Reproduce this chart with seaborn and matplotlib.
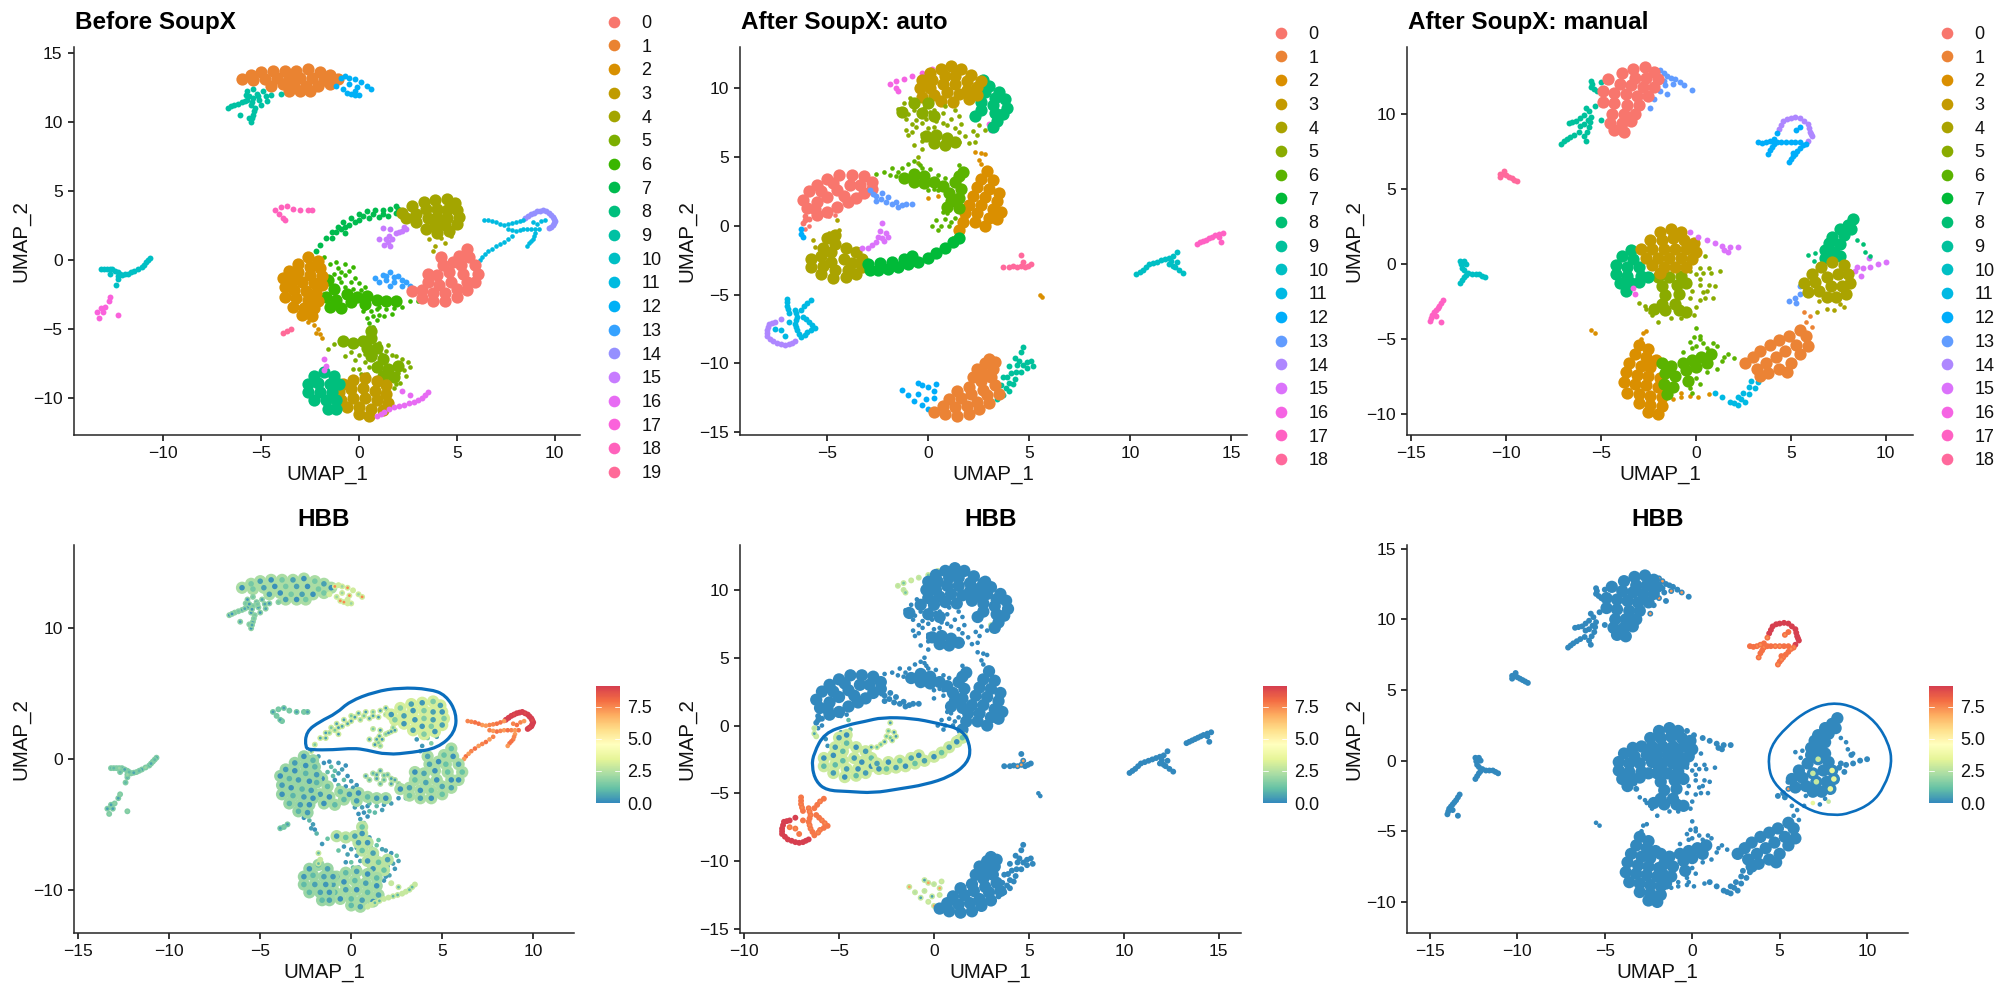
import matplotlib
matplotlib.use("Agg")
import matplotlib.pyplot as plt
from matplotlib.cm import ScalarMappable
from matplotlib.colors import LinearSegmentedColormap, Normalize
from matplotlib.lines import Line2D
from matplotlib.patches import PathPatch
from matplotlib.path import Path
import pandas as pd
import seaborn as sns

# Seurat cluster colours (ggplot hue palette)
hue20 = ["#F8766D","#EA8331","#D89000","#C09B00","#A3A500","#7CAE00","#39B600","#00BB4E","#00BF7D","#00C1A3",
         "#00BFC4","#00BAE0","#00B0F6","#35A2FF","#9590FF","#C77CFF","#E76BF3","#FA62DB","#FF62BC","#FF6A98"]
hue19 = ["#F8766D","#EB8335","#DA8F00","#C49A00","#AAA300","#8AAB00","#5BB300","#00BA38","#00BF74","#00C19C",
         "#00BFC4","#00B9E3","#00ADFA","#619CFF","#AE87FF","#DB72FB","#F564E3","#FF61C3","#FF699C"]
spectral = ["#3288BD","#66C2A5","#ABDDA4","#E6F598","#FFFFBF","#FEE08B","#FDAE61","#F46D43","#D53E4F"]

# ---- Before SoupX: UMAP positions per cluster ----
bf_1 = [(-6.0,13.1),(-5.5,13.4),(-5.0,13.6),(-4.4,13.7),(-3.8,13.7),(-3.2,13.7),(-2.6,13.8),(-2.0,13.6),(-1.5,13.4),(-1.1,13.1),(-5.4,13.0),(-4.8,13.1),(-4.2,13.2),(-3.6,13.2),(-3.0,13.2),(-2.4,13.2),(-1.8,13.0),(-4.5,12.6),(-3.9,12.7),(-3.3,12.6),(-2.7,12.6),(-2.1,12.6),(-1.5,12.7),(-3.6,12.2),(-3.0,12.2),(-2.5,12.2)]
bf_12 = [(-0.9,13.2),(-0.7,13.3),(-0.5,13.2),(-0.2,13.1),(0.1,12.9),(0.4,12.6),(0.6,12.4),(-1.2,12.6),(-0.8,12.4),(-0.6,12.1),(-0.2,12.2),(-0.5,12.7),(-0.1,12.5),(-0.2,11.9),(0,11.9),(-0.4,12.0)]
bf_9 = [(-6.7,11.0),(-6.4,11.2),(-6.0,11.4),(-5.7,11.6),(-5.4,11.7),(-5.1,11.6),(-5.5,11.2),(-5.3,11.0),(-5.4,10.5),(-5.5,10.0),(-5.6,10.3),(-6.1,10.5),(-5.7,12.2),(-5.4,12.4),(-4.9,12.2),(-4.5,11.9),(-4.0,12.0),(-4.7,11.5),(-5.0,11.2),(-5.8,11.9),(-5.2,12.0)]
bf_9_more = [(-6.55,11.1),(-6.2,11.3),(-5.85,11.5),(-5.45,11.45),(-5.35,10.75),(-5.45,10.25),(-5.6,11.85),(-5.15,11.85),(-4.75,11.85)]
bf_14 = [(8.5,3.0),(8.8,3.3),(9.1,3.5),(9.4,3.6),(9.7,3.4),(9.9,3.1),(10,2.8),(9.9,2.5),(9.7,2.3)]
bf_14_more = [(8.65,3.15),(8.95,3.4),(9.25,3.55),(9.55,3.5),(9.8,3.25),(9.95,2.95),(9.95,2.65),(9.8,2.4)]
bf_11 = [(6.4,2.9),(6.8,2.8),(7.2,2.6),(7.6,2.6),(8.0,2.7),(8.4,2.9),(7.6,2.2),(8.0,2.1),(8.4,2.2),(8.8,2.2),(9.2,2.2),(9.0,1.9),(8.9,1.5),(8.7,1.2),(8.6,1.0),(7.8,1.7),(7.4,1.3),(7.0,1.0),(6.6,0.6),(6.3,0.2),(6.2,0),(9.3,2.8),(9.1,2.6),(9.5,2.9),(8.9,2.7)]
bf_11_more = [(6.6,2.85),(7.0,2.7),(7.4,2.55),(7.8,2.65),(8.2,2.8),(7.8,2.15),(8.2,2.15),(8.6,2.2),(9.0,2.2),(8.95,1.7),(8.8,1.35),(7.6,1.5),(7.2,1.15),(6.8,0.8),(6.45,0.4)]
bf_18 = [(-4.3,3.6),(-4.0,3.8),(-3.7,3.9),(-3.4,3.7),(-3.0,3.6),(-2.6,3.6),(-2.4,3.6),(-4.1,3.3),(-3.9,3.0),(-3.8,2.9)]
bf_19 = [(-3.9,-5.3),(-3.7,-5.2),(-3.5,-5.0)]
bf_10 = [(-13.2,-0.7),(-12.9,-0.7),(-12.6,-0.7),(-12.3,-0.9),(-12.1,-1.1),(-12.3,-1.4),(-12.4,-1.8),(-11.8,-1.0),(-11.5,-0.8),(-11.1,-0.5),(-10.9,-0.2),(-10.7,0.1),(-12.7,-1.0)]
bf_10_more = [(-13.05,-0.7),(-12.75,-0.7),(-12.45,-0.8),(-12.2,-1.0),(-12.3,-1.2),(-11.95,-1.05),(-11.65,-0.9),(-11.3,-0.65),(-11.0,-0.35),(-10.8,-0.05)]
bf_17 = [(-13.4,-3.8),(-13.3,-4.2),(-13.1,-3.8),(-13.0,-3.4),(-12.8,-3.0),(-12.7,-2.7),(-13.2,-3.5),(-12.3,-4.0)]
bf_7 = [(-2.2,0.6),(-2.0,1.1),(-1.7,1.6),(-1.4,2.0),(-1.1,2.4),(-0.8,2.7),(-0.4,3.0),(0,3.3),(0.4,3.5),(0.8,3.6),(1.2,3.6),(1.6,3.7),(1.9,3.9),(-0.9,2.2),(-0.5,2.5),(0,2.9),(0.5,3.0),(1.0,3.1),(1.5,3.2),(1.9,3.4),(-1.4,1.6),(-0.7,1.9),(2.0,3.7),(-0.2,2.7),(0.2,3.2),(0.7,3.3),(1.2,3.3),(-0.7,2.4),(-1.2,2.0)]
bf_4 = [(2.2,3.4),(2.7,3.9),(3.3,4.2),(3.9,4.3),(4.5,4.4),(4.9,4.1),(5.0,3.6),(5.1,3.1),(5.0,2.6),(4.6,2.1),(4.0,1.9),(3.4,2.2),(2.9,2.7),(2.4,3.0),(2.9,3.3),(3.4,3.7),(4.0,3.7),(4.5,3.6),(3.5,3.0),(4.0,3.1),(4.5,3.0),(3.9,2.5),(4.4,2.5)]
bf_4_thin = [(3.6,1.5),(4.2,1.6),(4.7,1.7),(3.9,1.0),(4.4,1.2),(3.8,0.6)]
bf_15 = [(1.3,1.1),(1.6,1.0),(1.4,1.5),(1.7,1.5),(1.9,1.9),(2.2,2.1),(2.4,2.2),(1.2,2.3),(1.0,1.5),(1.6,2.2),(1.5,1.25),(1.55,1.75),(2.05,2.0),(2.3,2.4)]
bf_13 = [(0.8,-1.3),(1.2,-1.1),(1.6,-0.9),(2.0,-1.2),(1.4,-1.5),(1.8,-1.6),(2.4,-1.6),(2.6,-1.9),(2.2,-1.9),(1.0,-1.6),(1.4,-1.2),(1.8,-1.25),(2.2,-1.5),(1.6,-1.9)]
bf_0 = [(2.7,-2.3),(3.2,-2.8),(3.8,-3.0),(4.4,-3.0),(5.0,-2.7),(5.5,-2.2),(5.9,-1.6),(6.1,-1.0),(5.9,-0.4),(5.6,0.2),(5.5,0.8),(3.2,-2.2),(3.8,-2.4),(4.4,-2.4),(5.0,-2.1),(5.5,-1.6),(3.5,-1.6),(4.1,-1.8),(4.7,-1.6),(5.3,-1.0),(4.0,-1.1),(4.6,-0.9),(5.2,-0.4),(4.3,-0.4),(4.8,-0.2),(5.1,0.3),(4.2,0.2),(3.5,-1.0)]
bf_2 = [(-2.6,0.2),(-2.1,-0.1),(-3.1,-0.3),(-2.5,-0.5),(-2.0,-0.6),(-3.6,-0.8),(-3.1,-0.9),(-2.5,-1.1),(-1.9,-1.2),(-3.9,-1.3),(-3.4,-1.5),(-2.9,-1.6),(-2.3,-1.7),(-1.9,-1.8),(-3.8,-2.0),(-3.3,-2.2),(-2.7,-2.3),(-2.2,-2.4),(-3.8,-2.7),(-3.2,-2.8),(-2.6,-2.9),(-2.1,-3.0),(-3.4,-3.4),(-2.8,-3.5),(-2.3,-3.5),(-2.9,-4.0),(-2.4,-4.1)]
bf_2_thin = [(-2.6,-4.5),(-2.3,-4.7),(-2.1,-5.0),(-2.0,-5.4),(-1.9,-5.7),(-2.2,-5.3)]
bf_6 = [(-1.6,-1.5),(-1.3,-2.1),(-1.7,-2.7),(-1.2,-2.9),(-0.6,-2.5),(-0.1,-2.7),(0.4,-2.6),(0.9,-2.9),(1.4,-3.0),(1.9,-3.0),(-0.4,-3.1),(0.3,-3.2),(-1.5,-3.4),(-0.9,-3.5)]
bf_6_thin = [(-1.5,-0.3),(-1.1,-0.6),(-0.7,-0.3),(-0.3,-0.5),(-1.3,-1.0),(-0.7,-1.1),(-0.9,-1.6),(-0.4,-1.6),(0,-1.7),(0.3,-2.0),(-0.7,-2.0),(0.6,-3.7),(0.9,-3.6),(1.4,-3.6),(2.2,-3.4),(2.6,-3.0),(3.0,-3.0),(0.2,-3.7),(0.7,-4.1),(1.3,-4.1),(0.5,-4.6),(0.9,-4.4),(0.7,-4.9),(-1.8,0.2)]
bf_6_more = [(-1.2,-0.2),(-0.9,-0.9),(-0.5,-0.8),(-0.2,-1.3),(-1.0,-1.3),(0.1,-2.2),(-0.3,-2.1),(1.0,-3.4),(1.8,-3.5),(0.4,-4.2),(1.0,-4.0),(1.7,-3.9),(0.3,-3.5)]
bf_5 = [(-0.8,-5.9),(-0.3,-6.0),(0.2,-5.9),(0.6,-5.7),(0.6,-5.2),(0.4,-6.4),(0.9,-6.4),(0.6,-7.0),(1.2,-7.2),(0.9,-7.8),(1.5,-7.9),(2.0,-7.7),(1.2,-8.4),(1.8,-8.5)]
bf_5_thin = [(-1.6,-6.5),(-1.3,-6.1),(0.3,-6.8),(0.8,-6.9),(1.4,-6.6),(1.9,-7.0),(0.3,-7.4),(0.9,-7.5),(1.4,-7.3),(2.0,-7.6),(2.5,-7.4),(2.6,-7.8),(0.8,-8.0),(1.4,-8.0),(2.0,-8.2),(2.4,-8.4),(1.6,-8.6),(2.1,-8.9),(1.8,-9.3),(-0.7,-7.0),(-0.2,-7.3),(0.4,-8.3)]
bf_5_more = [(1.0,-6.0),(1.5,-6.2),(0,-6.9),(-0.4,-6.7),(1.1,-6.8),(1.7,-6.9),(2.2,-7.2),(0,-7.9),(0.5,-7.8),(-0.3,-7.9),(0.1,-8.3),(2.3,-8.0),(1.9,-9.0)]
bf_3 = [(-0.8,-9.0),(-0.3,-8.7),(0.3,-8.6),(0.9,-8.8),(1.4,-9.1),(-1.0,-9.6),(-0.4,-9.4),(0.2,-9.3),(0.8,-9.5),(1.4,-9.7),(-0.9,-10.2),(-0.3,-10.0),(0.3,-10.0),(0.9,-10.2),(1.5,-10.4),(-0.6,-10.7),(0,-10.7),(0.6,-10.8),(1.2,-10.9),(0,-11.2),(0.5,-11.3)]
bf_8 = [(-2.3,-8.4),(-1.8,-8.1),(-1.3,-8.4),(-2.6,-9.0),(-2.1,-8.9),(-1.5,-9.0),(-1.0,-9.0),(-2.6,-9.6),(-2.0,-9.6),(-1.4,-9.6),(-2.3,-10.2),(-1.7,-10.2),(-1.2,-10.2),(-1.6,-10.8),(-1.2,-10.8)]
bf_16 = [(0.9,-11.3),(1.3,-11.0),(1.8,-10.7),(2.3,-10.5),(2.8,-10.3),(3.2,-10.0),(3.5,-9.6),(2.6,-9.8),(2.2,-9.5),(-1.8,-7.2),(-1.7,-7.7),(-1.8,-8.0),(1.1,-11.15),(1.55,-10.85),(2.05,-10.6),(2.55,-10.4),(3.0,-10.15),(3.35,-9.8)]

# ---- After SoupX, automatic contamination ----
au_0 = [(-6.2,1.9),(-5.9,2.5),(-5.5,3.0),(-5.0,3.4),(-4.4,3.7),(-3.8,3.7),(-3.2,3.6),(-2.8,3.2),(-2.8,2.7),(-3.2,2.4),(-3.6,2.0),(-4.0,1.7),(-4.5,1.4),(-5.0,1.0),(-5.5,0.8),(-6.0,1.3),(-5.5,1.7),(-5.0,2.1),(-4.5,2.6),(-3.9,3.0),(-3.4,3.0),(-5.3,2.5),(-4.7,3.1),(-4.2,2.2),(-5.6,1.2)]
au_0_low = [(-6.1,0.7),(-6.2,0.2),(-6.1,0.4),(-5.9,0.5)]
au_0_thin = [(-4.9,0.7),(-4.6,0.8),(-5.9,0.0),(-6.1,-0.2)]
au_16 = [(-1.9,10.3),(-1.6,10.5),(-1.2,10.7),(-0.8,10.9),(-0.3,11.1),(0.2,11.4),(-1.6,10.0),(-1.5,9.8),(3.1,7.0),(3.0,7.4)]
au_3 = [(0.1,11.1),(0.6,11.4),(1.1,11.6),(1.6,11.4),(2.1,11.0),(2.6,10.5),(-0.3,10.6),(0.2,10.6),(0.8,10.9),(1.3,10.9),(1.9,10.5),(2.4,10.1),(-0.4,10.0),(0.1,10.0),(0.7,10.3),(1.3,10.3),(1.9,9.9),(2.4,9.5),(-0.3,9.4),(0.3,9.5),(0.9,9.7),(1.5,9.6),(2.0,9.2),(0.6,9.1),(1.2,9.0)]
au_8 = [(2.7,10.6),(3.0,10.2),(3.5,9.7),(3.8,9.2),(3.9,8.6),(3.7,8.1),(3.4,7.6),(3.2,7.2),(2.8,9.7),(3.3,9.3),(2.6,9.0),(3.2,8.8),(2.6,8.4),(3.3,8.2),(2.3,8.0)]
au_4 = [(-5.8,-2.4),(-5.8,-3.0),(-5.3,-3.5),(-4.7,-3.8),(-4.1,-3.7),(-3.6,-3.5),(-3.3,-3.0),(-3.3,-2.4),(-3.6,-1.9),(-4.1,-1.6),(-4.6,-1.3),(-5.2,-1.6),(-5.3,-2.2),(-4.8,-2.6),(-4.2,-2.4),(-3.8,-2.7),(-5.2,-2.9),(-4.6,-3.2),(-4.0,-3.2),(-4.8,-1.9),(-5.0,-0.9),(-4.6,-0.7)]
au_4_thin = [(-5.6,-1.5),(-4.4,-0.3),(-4.9,-0.5),(-5.7,-1.0),(-4.5,0.4)]
au_5 = [(-0.1,6.5),(0.4,6.6),(0.9,6.4),(0.3,6.0),(0.8,5.9),(1.3,6.1),(-1.3,8.3),(-0.7,8.9),(0,8.9),(-0.3,8.2),(0.3,8.0)]
au_5_thin = [(-1.5,8.5),(-1.2,8.9),(-0.9,9.3),(-0.7,8.4),(-0.2,8.6),(0.3,8.4),(0.8,8.7),(1.3,8.4),(-1.1,7.8),(-0.6,7.7),(-0.1,7.8),(0.4,7.6),(1.1,7.8),(-1.1,7.0),(-0.6,7.2),(0,7.1),(0.9,7.3),(1.6,7.4),(-1.0,6.6),(-0.3,6.2),(2.4,6.6),(2.8,7.0),(1.5,6.1),(2.0,6.0),(1.8,6.5),(2.3,6.1),(-0.7,5.9),(-0.3,5.6),(-0.5,5.0),(-0.5,4.6)]
au_5_more = [(-1.0,8.1),(-0.4,8.1),(0.1,8.3),(0.7,8.2),(1.5,8.0),(-0.8,7.4),(-0.3,7.5),(0.3,7.2),(0.7,7.5),(1.3,7.1),(-0.8,6.8),(-0.3,6.7),(1.5,6.8),(2.2,6.9),(2.5,7.3)]
au_2 = [(2.9,4.0),(2.6,3.4),(3.2,3.3),(2.4,2.8),(3.0,2.7),(3.5,2.4),(2.2,2.2),(2.8,2.1),(3.4,1.8),(2.0,1.5),(2.6,1.5),(3.2,1.2),(3.6,1.0),(1.8,0.9),(2.4,0.9),(3.0,0.6),(3.4,0.5),(1.7,0.3),(2.3,0.3),(2.8,0),(1.5,-0.3)]
au_2_thin = [(2.3,5.4),(2.6,5.3),(2.5,4.8),(2.8,5.2),(2.6,4.5),(1.0,2.0),(0.5,2.2),(0.0,2.0),(1.4,-0.7),(1.2,-0.9),(5.5,-5.0),(5.6,-5.2)]
au_6 = [(-1.2,3.5),(-0.7,3.8),(-0.7,3.2),(-0.2,3.6),(-0.2,3.1),(0.3,3.2),(0.7,2.9),(1.3,3.2),(1.5,3.6),(1.7,3.9),(1.0,2.4),(1.6,2.7),(1.1,1.8),(1.5,2.0),(0.9,1.4),(1.5,1.3)]
au_6_thin = [(-2.6,3.8),(-2.2,3.9),(-1.8,4.2),(-1.3,4.2),(-1.0,4.5),(-0.7,4.7),(-0.3,4.2),(0.8,0.5),(0.4,0.4),(0.2,0),(0.5,-0.3),(1.0,0),(0.7,1.0),(1.3,0.6),(1.5,4.4),(0,2.6),(0.5,2.6)]
au_6_more = [(-1.6,3.6),(-1.9,3.7),(-1.5,3.9),(-0.4,4.4),(0.1,4.1),(0.5,3.7),(0.8,3.5),(0.3,2.7),(0.9,0.9),(0.6,0.0),(1.1,0.3)]
au_13 = [(-2.9,2.6),(-2.6,2.2),(-2.3,2.4),(-2.1,1.7),(-1.8,1.6),(-1.5,1.4),(-1.1,1.6),(-0.8,1.6),(-2.6,1.8),(-2.0,2.1),(-2.35,1.95),(-1.6,1.75),(-1.3,1.5),(-2.75,2.35)]
au_15 = [(-3.3,-1.6),(-3.0,-1.6),(-2.6,-1.2),(-2.3,-0.9),(-2.1,-0.5),(-2.4,-0.4),(-2.3,0.2),(-2.8,-1.4),(-2,-0.8),(-2.5,-0.8),(-2.2,-1.1)]
au_7 = [(-2.9,-3.2),(-2.5,-3.2),(-2.0,-3.1),(-1.5,-3.0),(-1.0,-2.8),(-0.5,-2.6),(0,-2.3),(0.4,-2.0),(0.8,-1.6),(1.2,-1.2),(1.5,-0.9),(-3.0,-2.8),(-2.4,-2.7),(-1.8,-2.6),(-1.2,-2.4),(-0.8,-2.2)]
au_12 = [(-1.3,-11.9),(-1.0,-12.3),(-0.7,-12.7),(-0.3,-13.0),(0,-13.3),(-0.5,-12.2),(-0.1,-12.6),(0.3,-12.5),(-0.3,-11.6),(0,-11.7),(-0.5,-11.4),(0.4,-11.5),(0.3,-12.0),(-6.3,-0.2),(-6.3,-0.6),(-6.2,-0.8)]
au_14 = [(-8.0,-7.6),(-7.9,-7.1),(-7.6,-7.0),(-8.0,-8.0),(-7.7,-8.4),(-7.3,-8.6),(-6.9,-8.6),(-6.6,-8.4),(-7.3,-6.8)]
au_14_more = [(-7.95,-7.35),(-8.0,-7.8),(-7.85,-8.2),(-7.5,-8.5),(-7.1,-8.65),(-6.75,-8.5),(-7.75,-7.05)]
au_11 = [(-7.0,-5.3),(-7.0,-5.8),(-6.9,-6.3),(-6.6,-6.1),(-6.3,-6.1),(-6.0,-5.6),(-5.8,-5.4),(-6.5,-6.6),(-6.6,-7.1),(-6.5,-7.6),(-6.3,-8.1),(-6.0,-7.7),(-5.6,-7.4),(-5.9,-7.0),(-6.2,-6.6),(-7.3,-7.6),(-7.1,-8.0),(-7.6,-7.5),(-6.9,-7.0)]
au_11_more = [(-7.0,-5.55),(-6.95,-6.05),(-6.15,-5.85),(-6.55,-6.35),(-6.55,-6.85),(-6.55,-7.35),(-6.4,-7.85),(-6.1,-7.9),(-5.8,-7.55),(-5.75,-7.2),(-6.05,-6.8)]
au_18 = [(3.7,-3.0),(4.0,-3.0),(4.4,-3.0),(4.8,-3.0),(5.1,-2.8),(4.7,-2.6),(4.6,-2.1),(4.2,-2.95),(4.6,-2.9),(4.95,-2.9)]
au_10 = [(10.3,-3.5),(10.6,-3.2),(10.9,-2.8),(11.3,-2.6),(11.7,-2.4),(12.1,-2.2),(12.3,-1.9),(11.9,-2.8),(12.2,-3.0),(12.6,-3.4),(12.3,-2.6)]
au_10_more = [(10.45,-3.35),(10.75,-3.0),(11.1,-2.7),(11.5,-2.5),(11.9,-2.3),(12.0,-2.55),(12.1,-2.9),(12.4,-3.2)]
au_17 = [(13.3,-1.3),(13.6,-1.1),(13.9,-0.9),(14.2,-0.7),(14.6,-0.5),(14.5,-1.2),(14.4,-0.8)]
au_17_more = [(13.45,-1.2),(13.75,-1.0),(14.05,-0.8),(14.4,-0.6)]
au_1 = [(0.3,-13.5),(0.8,-13.7),(1.4,-13.8),(2.0,-13.7),(2.5,-13.3),(3.0,-12.9),(3.5,-12.2),(0.7,-13.1),(1.3,-13.2),(1.9,-13.1),(2.4,-12.8),(2.9,-12.3),(1.0,-12.6),(1.6,-12.5),(2.1,-12.2),(2.7,-11.9),(3.3,-11.6),(1.4,-12.0),(2.0,-11.7),(2.6,-11.3),(3.1,-11.0),(2.2,-11.0),(2.7,-10.7),(3.2,-10.4),(2.4,-10.4),(2.8,-10.0),(3.0,-9.7),(3.3,-9.9)]
au_9 = [(3.4,-12.6),(3.7,-12.3),(4.0,-12.0),(3.6,-11.6),(4.0,-11.4),(4.3,-11.1),(3.7,-11.0),(4.1,-10.7),(4.6,-10.6),(4.0,-10.2),(4.4,-10.1),(4.9,-10.3),(5.2,-10.2),(5.1,-9.8),(4.3,-9.6),(4.6,-9.2),(4.7,-8.8),(4.9,-9.9),(3.85,-11.8),(4.2,-11.5),(3.9,-10.95),(4.35,-10.6),(4.7,-10.1),(4.5,-9.8)]

# ---- After SoupX, manual contamination ----
ma_0 = [(-2.7,13.1),(-3.3,13.0),(-2.2,12.8),(-3.9,12.7),(-3.2,12.4),(-2.6,12.4),(-2.0,12.3),(-4.6,12.3),(-4.0,12.0),(-3.4,11.9),(-2.8,11.8),(-2.2,11.8),(-4.9,11.5),(-4.3,11.4),(-3.7,11.3),(-3.1,11.2),(-2.5,11.2),(-4.9,10.8),(-4.3,10.7),(-3.6,10.6),(-3.0,10.6),(-4.4,10.0),(-3.8,10.0),(-3.2,10.0),(-4.5,9.4),(-3.9,9.4),(-3.4,9.5),(-4.3,8.9),(-3.8,8.8)]
ma_13 = [(-1.9,12.9),(-1.5,12.5),(-1.1,12.3),(-0.6,11.9),(-0.2,11.6),(-1.6,11.9),(-1.9,11.5),(-2.2,11.0),(-1.5,11.3),(-2.4,10.4),(4.9,-2.5),(5.2,-2.3),(5.5,-2.0),(5.3,-2.6),(5.5,-1.5),(-1.7,12.7),(-1.3,12.4),(-0.85,12.1),(-1.2,12.0),(-1.7,12.2)]
ma_9 = [(-5.5,11.8),(-5.5,12.2),(-5.2,11.5),(-5.0,12.1),(-5.8,10.4),(-5.9,9.9),(-6.3,9.5),(-6.7,9.4),(-5.5,9.8),(-5.6,9.1),(-5.9,8.5),(-5.8,8.2),(-6.4,8.6),(-6.8,8.3),(-7.1,8.0),(-5.3,10.5),(-5.0,9.6),(-6.1,9.2),(-5.9,9.3)]
ma_9_more = [(-5.65,10.15),(-6.1,9.7),(-6.5,9.45),(-5.7,9.55),(-5.55,9.45),(-5.75,8.8),(-6.15,8.75),(-6.6,8.45),(-6.95,8.15),(-5.35,11.65),(-5.45,12.0)]
ma_14 = [(4.4,9.0),(4.6,9.5),(5.0,9.7),(5.5,9.7),(5.9,9.3),(6.0,8.8),(6.1,8.5),(5.9,8.2)]
ma_14_more = [(4.5,9.25),(4.8,9.65),(5.25,9.75),(5.7,9.5),(5.95,9.05),(6.05,8.65)]
ma_12 = [(3.3,8.1),(3.7,8.1),(4.1,8.3),(4.3,8.7),(3.9,7.6),(4.1,8.0),(4.5,8.1),(5.0,8.1),(5.5,8.1),(5.8,8.0),(5.5,7.7),(5.2,7.3),(5.0,7.0),(4.9,6.8),(5.1,7.4),(5.3,8.9),(5.5,9.1),(3.8,7.3)]
ma_12_more = [(3.5,8.05),(3.9,8.2),(4.3,8.1),(4.75,8.1),(5.25,8.1),(5.65,7.9),(5.35,7.5),(5.1,7.15),(4.0,7.8)]
ma_18 = [(-10.3,6.0),(-10.1,6.2),(-10.0,5.9),(-9.7,5.7),(-9.4,5.5),(-10.3,5.8),(-10.15,6.0),(-9.85,5.8),(-9.55,5.6)]
ma_10 = [(-12.4,0.2),(-12.3,-0.3),(-12.1,0),(-12.0,-0.6),(-12.2,-0.9),(-12.4,-1.3),(-11.8,-0.7),(-11.4,-0.7),(-11.1,-0.9),(-12.2,0.2)]
ma_10_more = [(-12.35,-0.05),(-12.2,-0.45),(-12.1,-0.75),(-12.3,-1.1),(-11.6,-0.7),(-11.25,-0.8)]
ma_17 = [(-14,-3.8),(-13.9,-3.4),(-13.7,-3.1),(-13.5,-2.8),(-13.3,-2.4),(-13.7,-3.5),(-13.4,-3.9)]
ma_17_more = [(-13.95,-3.6),(-13.8,-3.25),(-13.6,-2.95),(-13.4,-2.6)]
ma_3 = [(-1.3,2.3),(-1.9,2.1),(-0.8,2.1),(-2.4,1.6),(-1.8,1.6),(-1.2,1.7),(-0.6,1.6),(-0.1,1.4),(-2.9,1.0),(-2.3,1.0),(-1.7,1.0),(-1.1,1.0),(-0.5,1.0),(0,0.8),(-2.6,0.4),(-2.0,0.4),(-1.4,0.4),(-0.8,0.4),(-0.2,0.3),(-2.3,-0.1),(-1.7,-0.2),(-1.1,-0.2),(-0.5,-0.2),(-1.9,-0.6)]
ma_8 = [(-3.4,0.9),(-3.9,0.5),(-3.3,0.3),(-4.2,-0.1),(-3.6,-0.2),(-3.0,-0.2),(-4.2,-0.7),(-3.6,-0.8),(-2.9,-0.8),(-2.5,-0.9),(-4.0,-1.3),(-3.4,-1.3),(-3.7,-1.8),(-3.0,-1.2)]
ma_8_up = [(8.3,3.0),(8.0,2.6),(7.6,2.3),(8.2,2.3),(7.2,1.8),(7.8,1.9),(7.0,1.4),(7.6,1.3),(6.8,0.9),(7.3,0.8),(6.8,0.4),(7.6,0.5)]
ma_8_thin = [(6.3,0.7),(5.9,0.6),(6.2,0.2),(8.5,1.6),(8.8,1.3),(8.9,0.8),(9.2,0.5)]
ma_5 = [(-2.0,-0.9),(-1.4,-0.9),(-0.8,-0.8),(-1.8,-1.5),(-1.0,-1.4),(-0.5,-1.3),(-1.6,-2.1),(-0.9,-2.0),(-1.8,-2.7),(-1.1,-2.7),(-1.6,-3.1),(-0.9,-3.1),(-2.2,-3.0),(-0.5,-3.2)]
ma_5_thin = [(-3.0,-2.6),(-2.6,-3.0),(-2.3,-3.4),(-0.3,-0.5),(0.2,-0.3),(0.7,-0.3),(1.3,-0.5),(0.8,-0.6),(0.2,-1.0),(0.7,-1.4),(1.0,-1.5),(0.4,-1.9),(0.9,-2.3),(0.2,-2.4),(-0.3,-2.3),(-0.1,-3.4),(-2.0,-3.9),(0.5,0.5)]
ma_5_more = [(0,-0.7),(0.4,-0.6),(0.2,-1.4),(-0.2,-1.8),(0.6,-1.8),(0.5,-2.3),(0,-2.9),(-2.7,-2.8),(-2.4,-3.2),(-1.3,-3.6),(-0.8,-3.6)]
ma_15 = [(-0.3,2.1),(0.1,1.8),(0.6,1.6),(1.0,1.4),(1.4,1.2),(1.8,1.1),(2.2,1.1),(1.5,0.9),(1.7,0.8),(8.4,-0.5),(8.8,-0.3),(9.2,-0.2),(9.6,0.0),(10.0,0.1),(8.7,-0.8),(9.1,0.4),(8.5,-0.2)]
ma_16 = [(-3.3,-1.6),(-3.2,-2.0)]
ma_2 = [(-3.0,-5.4),(-2.5,-5.7),(-3.2,-6.0),(-2.6,-6.2),(-2.1,-6.4),(-3.5,-6.6),(-2.9,-6.8),(-2.4,-6.9),(-3.7,-7.2),(-3.1,-7.4),(-2.5,-7.5),(-1.9,-7.6),(-3.8,-7.9),(-3.2,-8.0),(-2.6,-8.1),(-2.0,-8.2),(-3.6,-8.6),(-3.0,-8.7),(-2.4,-8.8),(-1.8,-8.9),(-3.0,-9.3),(-2.4,-9.4),(-1.8,-9.5),(-2.5,-9.9),(-2.0,-10)]
ma_2_thin = [(-2.8,-4.6),(-2.9,-5.0),(-2.6,-4.5),(-1.2,-9.0),(-0.8,-8.9),(-0.3,-8.8),(0.1,-8.9),(0.7,-8.7),(-0.8,-8.6),(-5.5,-4.4),(-5.3,-4.6)]
ma_6 = [(-1.8,-6.6),(-1.3,-6.8),(-0.7,-6.6),(-0.2,-6.4),(0.3,-6.2),(0.8,-6.0),(-1.6,-7.3),(-1.1,-7.5),(-0.5,-7.1),(0,-6.9),(0.6,-6.6),(-1.7,-8.0),(-1.2,-8.2),(-0.4,-7.8),(-1.5,-8.7)]
ma_6_thin = [(0,-4.3),(0.2,-4.8),(0.4,-5.3),(0,-5.5),(0.6,-5.6),(1.1,-5.5),(1.5,-6.2),(2.0,-6.3),(-0.7,-5.9),(-0.2,-5.6),(0.2,-8.0),(-0.3,-8.3),(1.1,-7.0)]
ma_6_more = [(0.2,-5.0),(-0.1,-4.9),(0.9,-5.3),(1.4,-6.5),(1.7,-6.0),(-0.3,-5.2),(0.6,-7.2),(0,-7.6),(-0.2,-8.6)]
ma_11 = [(1.0,-8.6),(1.4,-8.9),(1.8,-9.2),(2.2,-9.4),(2.6,-9.2),(2.8,-8.7),(3.1,-8.3),(2.9,-7.8),(2.5,-8.6),(3.3,-7.9),(2.2,-8.9),(2.4,-9.0),(2.8,-8.2),(2.0,-9.3)]
ma_1 = [(2.6,-6.6),(3.0,-6.2),(3.4,-5.8),(3.9,-5.4),(4.4,-5.1),(4.9,-4.8),(5.5,-4.4),(3.2,-7.0),(3.7,-6.6),(4.2,-6.2),(4.7,-5.8),(5.3,-5.4),(5.8,-4.8),(3.8,-7.3),(4.4,-7.0),(5.0,-6.6),(5.5,-6.0),(5.9,-5.5),(3.4,-7.5),(4.8,-7.2)]
ma_1_thin = [(5.8,-3.9),(6.0,-3.5),(5.7,-3.2),(6.1,-4.2)]
ma_4 = [(6.1,-0.7),(6.6,-0.2),(7.2,0.1),(7.8,-0.1),(8.0,-0.7),(5.7,-1.3),(6.3,-1.2),(6.9,-0.9),(7.5,-0.7),(8.1,-1.3),(5.9,-1.9),(6.5,-1.8),(7.1,-1.5),(7.7,-1.5),(7.9,-2.0),(6.9,-2.2),(7.4,-2.2)]
ma_4_thin = [(7.6,-2.7),(7.3,-3.1),(7.8,-2.9),(6.5,-2.5),(6.9,-3.0),(6.4,-3.2)]

# Layers: cluster number, point weight, positions
before_layers = [(1,"core",bf_1),(12,"mid",bf_12),(9,"mid",bf_9),(9,"mid",bf_9_more),(14,"mid",bf_14),(14,"mid",bf_14_more),(11,"thin",bf_11),(11,"thin",bf_11_more),(18,"mid",bf_18),
    (19,"mid",bf_19),(10,"mid",bf_10),(10,"mid",bf_10_more),(17,"mid",bf_17),(7,"mid",bf_7),(6,"thin",bf_6_thin),(6,"thin",bf_6_more),(6,"core",bf_6),(4,"thin",bf_4_thin),(4,"core",bf_4),
    (15,"mid",bf_15),(13,"mid",bf_13),(0,"core",bf_0),(2,"thin",bf_2_thin),(2,"core",bf_2),(5,"thin",bf_5_thin),(5,"thin",bf_5_more),(5,"core",bf_5),
    (3,"core",bf_3),(8,"core",bf_8),(16,"mid",bf_16)]
auto_layers = [(0,"core",au_0),(0,"mid",au_0_low),(0,"thin",au_0_thin),(16,"mid",au_16),(8,"core",au_8),(3,"core",au_3),(5,"thin",au_5_thin),(5,"thin",au_5_more),(5,"core",au_5),
    (4,"thin",au_4_thin),(4,"core",au_4),(2,"thin",au_2_thin),(2,"core",au_2),(6,"thin",au_6_thin),(6,"thin",au_6_more),(6,"core",au_6),(13,"mid",au_13),(15,"mid",au_15),
    (7,"core",au_7),(12,"mid",au_12),(14,"mid",au_14),(14,"mid",au_14_more),(11,"mid",au_11),(11,"mid",au_11_more),(18,"mid",au_18),(10,"mid",au_10),(10,"mid",au_10_more),(17,"mid",au_17),(17,"mid",au_17_more),
    (9,"mid",au_9),(1,"core",au_1)]
manual_layers = [(13,"mid",ma_13),(9,"mid",ma_9),(9,"mid",ma_9_more),(0,"core",ma_0),(14,"mid",ma_14),(14,"mid",ma_14_more),(12,"mid",ma_12),(12,"mid",ma_12_more),(18,"mid",ma_18),(10,"mid",ma_10),(10,"mid",ma_10_more),(17,"mid",ma_17),(17,"mid",ma_17_more),
    (5,"thin",ma_5_thin),(5,"thin",ma_5_more),(5,"core",ma_5),(8,"core",ma_8),(3,"core",ma_3),(15,"mid",ma_15),(16,"mid",ma_16),(2,"thin",ma_2_thin),(2,"core",ma_2),
    (6,"thin",ma_6_thin),(6,"thin",ma_6_more),(6,"core",ma_6),(11,"mid",ma_11),(1,"thin",ma_1_thin),(1,"core",ma_1),(8,"thin",ma_8_thin),(8,"core",ma_8_up),(4,"thin",ma_4_thin),(4,"core",ma_4)]

# HBB expression per cluster: the level of the blob and the levels of single cells on it
before_base = [2.3,2.3,2.0,2.2,3.1,2.6,2.2,2.9,2.0,1.8,1.6,7.8,3.0,2.4,9.1,2.8,2.8,1.6,1.4,1.4]
before_cells = [[0.2,1.2,0.6],[0.2,1.4,0.5],[0.2,0.9,0.4],[0.2,1.0,0.5],[0.3,1.6,0.5],[0.3,1.2,0.5],[0.2,1.0,0.4],[0.4,1.4,0.6],[0.3,1.0,0.5],[0.3,1.4,0.6],[1.0,2.0,0.6],[7.6,7.9,7.2],[7.5,3.0,2.0],[0.5,1.0],[9.1,8.8],[0.3,1.5,0.5],[2.8,1.0],[0.5,1.8],[0.5,1.5],[0.5,1.5]]
auto_base = [0,0,0,0,2.9,0,0,2.9,0,0,0,7.8,2.8,0,9.1,2.9,2.8,0,0]
auto_cells = [[0],[0],[0],[0],[0.2,1.0,0.4],[0],[0],[0.2,1.2,0.5],[0],[0],[0],[7.8,7.5],[7.0,2.5,0.6,3.0],[0],[9.1],[0.4,1.2],[2.6,1.4,3.0],[0],[0,0,7.0]]
manual_base = [0,0,0,0,0,0,0,0,0,0,0,0,7.9,0,9.1,0,0,0,0]
manual_cells = [[0],[0],[0],[0],[0,0,2.8,0,3.5],[0],[0],[0],[0],[0],[0],[0],[7.9,7.4],[7.2,0,0],[9.1],[0],[0],[0],[0]]

# Hand-drawn outlines around the HBB-carrying populations
ring_before_x = [-2.53,-2.48,-1.72,-0.8,-0.1,1.3,2.67,4.3,5.2,5.8,5.7,4.75,3.35,1.97,0.82,0.13,-1.0,-2.2]
ring_before_y = [0.83,2.1,2.87,3.5,4.4,5.15,5.46,5.36,4.9,3.5,2.0,0.83,0.5,0.32,0.7,0.83,0.7,0.7]
ring_auto_x = [-6.44,-6.33,-5.77,-4.53,-3.63,-2.74,-1.16,0.19,1.54,1.95,1.77,0.87,-0.48,-1.83,-3.18,-4.53,-5.66,-6.22]
ring_auto_y = [-3.0,-2.04,-0.56,0.05,0.3,0.6,0.54,0.17,-0.32,-1.67,-2.78,-3.76,-4.37,-4.67,-4.98,-4.86,-4.79,-4.13]
ring_manual_x = [7.95,9.29,10.5,11.24,11.44,11.0,10.27,9.05,8.07,6.85,5.63,4.66,4.34,4.46,5.39,6.61]
ring_manual_y = [4.13,3.82,2.76,1.23,-0.19,-1.84,-3.02,-3.73,-3.89,-3.61,-2.67,-1.6,-0.42,0.99,2.4,3.58]

WEIGHTS = {"core": 78, "mid": 18, "thin": 11}
W, H = 1999, 997

sns.set_theme(style="ticks")
plt.rcParams["font.family"] = ["Liberation Sans", "DejaVu Sans"]
plt.rcParams["axes.linewidth"] = 1.1

fig = plt.figure(figsize=(W / 100, H / 100), dpi=100, facecolor="white")
cmap = LinearSegmentedColormap.from_list("hbb", spectral)
norm = Normalize(0, 9.14)


def make_axes(left, right, top, bottom, xlim, ylim, xticks, yticks):
    ax = fig.add_axes([left / W, 1 - bottom / H, (right - left) / W, (bottom - top) / H])
    ax.set_xlim(*xlim)
    ax.set_ylim(*ylim)
    ax.set_xticks(xticks)
    ax.set_yticks(yticks)
    ax.tick_params(labelsize=12.6, length=4, width=1.1, color="black", labelcolor="#111111", pad=4)
    sns.despine(ax=ax)
    return ax


def label_axes(ax):
    ax.set_xlabel("UMAP_1", fontsize=14.8, labelpad=3, color="#111111")
    ax.set_ylabel("UMAP_2", fontsize=14.8, labelpad=2, color="#111111")


def draw_clusters(ax, layers, colours):
    for cluster, weight, pts in layers:
        frame = pd.DataFrame(pts, columns=["x", "y"])
        sns.scatterplot(data=frame, x="x", y="y", ax=ax, color=colours[cluster], s=WEIGHTS[weight],
                        linewidth=0, legend=False)
    label_axes(ax)


def draw_hbb(ax, layers, base, cells):
    for cluster, weight, pts in layers:
        frame = pd.DataFrame(pts, columns=["x", "y"])
        levels = cells[cluster]
        frame["cell"] = [levels[i % len(levels)] for i in range(len(frame))]
        frame["blob"] = base[cluster]
        if weight == "thin":
            sns.scatterplot(data=frame, x="x", y="y", hue="cell", palette=cmap, hue_norm=norm, ax=ax,
                            s=WEIGHTS["thin"], linewidth=0, legend=False)
            continue
        sns.scatterplot(data=frame, x="x", y="y", hue="blob", palette=cmap, hue_norm=norm, ax=ax,
                        s=WEIGHTS[weight], linewidth=0, legend=False)
        sns.scatterplot(data=frame, x="x", y="y", hue="cell", palette=cmap, hue_norm=norm, ax=ax,
                        s=16 if weight == "core" else 4, linewidth=0, legend=False)
    label_axes(ax)


def draw_ring(ax, xs, ys, lw):
    # Closed quadratic curve through the midpoints of the outline's points
    pts = list(zip(xs, ys))
    mids = [((a[0] + b[0]) / 2, (a[1] + b[1]) / 2) for a, b in zip(pts, pts[1:] + pts[:1])]
    verts, codes = [mids[-1]], [Path.MOVETO]
    for ctrl, end in zip(pts, mids):
        verts += [ctrl, end]
        codes += [Path.CURVE3, Path.CURVE3]
    ax.add_patch(PathPatch(Path(verts, codes), fill=False, edgecolor="#0A6EBD", lw=lw, zorder=5))


def add_legend(colours, dot_x, first_y):
    handles = [Line2D([], [], linestyle="", marker="o", markersize=8.4, markeredgewidth=0, color=c) for c in colours]
    labels = [str(i) for i in range(len(colours))]
    fig.legend(handles, labels, loc="upper left", bbox_to_anchor=((dot_x - 16) / W, 1 - (first_y - 7) / H),
               frameon=False, fontsize=13, borderpad=0, borderaxespad=0, handletextpad=0.55,
               labelspacing=0.37, handlelength=1.9, labelcolor="#111111")


def add_colorbar(left):
    cax = fig.add_axes([left / W, 1 - 803 / H, 24 / W, 117 / H])
    bar = fig.colorbar(ScalarMappable(norm=norm, cmap=cmap), cax=cax, ticks=[0, 2.5, 5, 7.5])
    bar.ax.set_yticklabels(["0.0", "2.5", "5.0", "7.5"])
    bar.outline.set_visible(False)
    bar.ax.tick_params(length=0, labelsize=13, labelcolor="#111111", pad=5)
    for level in (2.5, 5, 7.5):
        cax.plot([0, 0.2], [level, level], color="white", lw=0.6, transform=cax.get_yaxis_transform())
        cax.plot([0.8, 1], [level, level], color="white", lw=0.6, transform=cax.get_yaxis_transform())


ROW1 = (47, 435)
ROW2 = (545, 933)

ax = make_axes(73.7, 580, *ROW1, (-14.58, 11.29), (-12.7, 15.41), [-10, -5, 0, 5, 10], [-10, -5, 0, 5, 10, 15])
draw_clusters(ax, before_layers, hue20)
fig.text(75 / W, 1 - 22 / H, "Before SoupX", fontsize=17.5, fontweight="bold", va="center", color="black")
add_legend(hue20, 613, 22)

ax = make_axes(740.3, 1246.8, *ROW1, (-9.31, 15.76), (-15.2, 13.0), [-5, 0, 5, 10, 15], [-15, -10, -5, 0, 5, 10])
draw_clusters(ax, auto_layers, hue19)
fig.text(741 / W, 1 - 22 / H, "After SoupX: auto", fontsize=17.5, fontweight="bold", va="center", color="black")
add_legend(hue19, 1280, 33)

ax = make_axes(1407.2, 1913, *ROW1, (-15.2, 11.44), (-11.42, 14.44), [-15, -10, -5, 0, 5, 10], [-10, -5, 0, 5, 10])
draw_clusters(ax, manual_layers, hue19)
fig.text(1408 / W, 1 - 22 / H, "After SoupX: manual", fontsize=17.5, fontweight="bold", va="center", color="black")
add_legend(hue19, 1946, 33)

ax = make_axes(73.7, 574.5, *ROW2, (-15.25, 12.27), (-13.31, 16.37), [-15, -10, -5, 0, 5, 10], [-10, 0, 10])
draw_hbb(ax, before_layers, before_base, before_cells)
draw_ring(ax, ring_before_x, ring_before_y, 2.3)
ax.set_title("HBB", fontsize=17.5, fontweight="bold", pad=14, color="black")
add_colorbar(596)

ax = make_axes(740.3, 1241, *ROW2, (-10.2, 16.17), (-15.3, 13.31), [-10, -5, 0, 5, 10, 15], [-15, -10, -5, 0, 5, 10])
draw_hbb(ax, auto_layers, auto_base, auto_cells)
draw_ring(ax, ring_auto_x, ring_auto_y, 2.3)
ax.set_title("HBB", fontsize=17.5, fontweight="bold", pad=14, color="black")
add_colorbar(1263)

ax = make_axes(1407.2, 1908, *ROW2, (-16.3, 12.34), (-12.2, 15.26), [-15, -10, -5, 0, 5, 10], [-10, -5, 0, 5, 10, 15])
draw_hbb(ax, manual_layers, manual_base, manual_cells)
draw_ring(ax, ring_manual_x, ring_manual_y, 1.9)
ax.set_title("HBB", fontsize=17.5, fontweight="bold", pad=14, color="black")
add_colorbar(1929)

fig.savefig("out.png", dpi=100, facecolor="white")
